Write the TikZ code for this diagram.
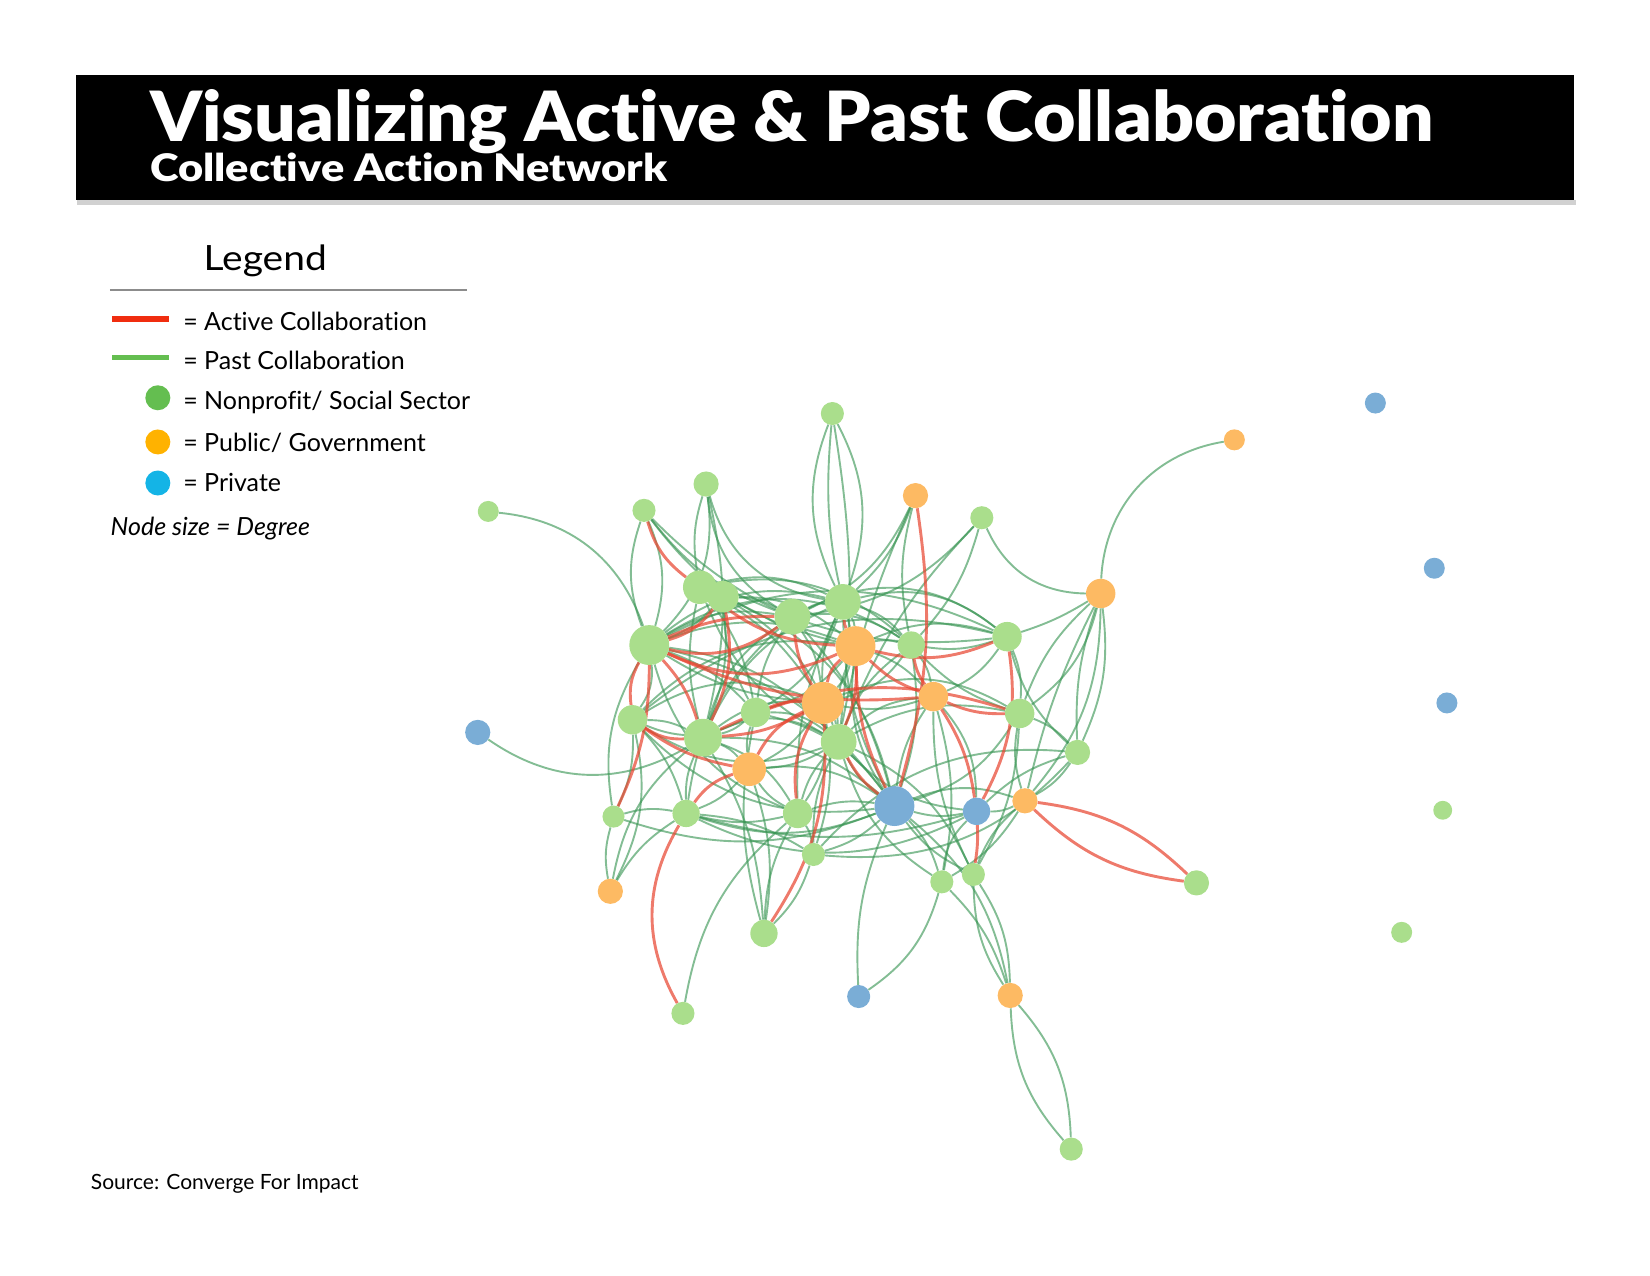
\documentclass[tikz,border=0pt]{standalone}
\usepackage{fontspec}
\setmainfont{Lato}[Ligatures=NoCommon]
\newfontfamily\titlefont{Lato Black}[Ligatures=NoCommon]
\usepackage{graphicx}
\usetikzlibrary{backgrounds}
\definecolor{npGreen}{RGB}{170,222,140}
\definecolor{pgOrange}{RGB}{253,186,99}
\definecolor{pvBlue}{RGB}{122,173,214}
\definecolor{pastGreen}{RGB}{55,148,82}
\definecolor{activeRed}{RGB}{232,70,50}
\definecolor{lgRed}{RGB}{240,45,15}
\definecolor{lgGreen}{RGB}{100,190,80}
\definecolor{lgOrange}{RGB}{255,178,0}
\definecolor{lgBlue}{RGB}{20,180,230}

\begin{document}
\begin{tikzpicture}[
    x=1.0523pt, y=-1.0523pt,
    np/.style={circle, fill=npGreen, inner sep=0pt},
    pg/.style={circle, fill=pgOrange, inner sep=0pt},
    pv/.style={circle, fill=pvBlue, inner sep=0pt},
    pastlink/.style={draw=pastGreen, draw opacity=.62, line width=1.9pt},
    activelink/.style={draw=activeRed, draw opacity=.72, line width=2.9pt},
    lgdot/.style={circle, inner sep=0pt, minimum size=25pt},
    lgtext/.style={anchor=base west, inner sep=0pt, font=\fontsize{25}{30}\selectfont}
  ]
  \useasboundingbox (0,0) rectangle (1568,1212);

  % title bar
  \fill[black!30, opacity=.6] (73,190) rectangle (1498,195);
  \fill[black] (72,71) rectangle (1496,190);
  \node[anchor=base west, inner sep=0pt, text=white] (title) at (142.6,134.6)
    {\raisebox{0pt}[\height][0pt]{\resizebox{1282.8pt}{52pt}{\titlefont Visualizing Active \& Past Collaboration}}};
  \node[anchor=base west, inner sep=0pt, text=white] (subtitle) at (142.6,172.6)
    {\resizebox{517pt}{28.5pt}{\titlefont Collective Action Network}};

  % legend
  \node[anchor=base, inner sep=0pt, font=\fontsize{34.8}{40}\selectfont] (lgtitle) at (252,256.6)
    {\scalebox{1.12}[1]{Legend}};
  \draw[black!45, line width=2pt] (104.5,275.6) -- (443.8,275.6);
  \draw[lgRed, line width=5.8pt] (106.6,303) -- (160.6,303);
  \draw[lgGreen, line width=5.2pt] (106.6,340) -- (160.6,340);
  \node[lgdot, fill=lgGreen] (lgnp) at (150,378) {};
  \node[lgdot, fill=lgOrange] (lgpg) at (150,420) {};
  \node[lgdot, fill=lgBlue] (lgpv) at (150,459) {};
  \node[lgtext] (lgactive) at (174,313.6) {= Active Collaboration};
  \node[lgtext] (lgpast) at (174,350.7) {= Past Collaboration};
  \node[lgtext] (lgnptext) at (174,389.6) {= Nonprofit/ Social Sector};
  \node[lgtext] (lgpgtext) at (174,429) {= Public/ Government};
  \node[lgtext] (lgpvtext) at (174,467) {= Private};
  \node[lgtext, font=\fontsize{25}{30}\selectfont\itshape] (lgsize) at (105,508.5) {Node size = Degree};

  \node[anchor=base west, inner sep=0pt, font=\fontsize{21}{24}\selectfont] (source) at (86.2,1130.2)
    {Source: Converge For Impact};

  % organisations
  \foreach \n/\x/\y/\r in {np1/791/393/11, np2/464/486/10, np3/612/485/11, np4/671/460/12,
      np5/933/492/11, np6/665/558/16, np7/687/567/15, np8/753/586/17, np9/801/572/17,
      np10/617/613/19, np11/866/613/13, np12/957/605/14, np13/601/684/14, np14/718/677/14,
      np15/668/701/18, np16/797/705/17, np17/969/678/14, np18/1024/715/12, np19/583/776/10.5,
      np20/652/773/13, np21/758/773/14, np22/773/812/11, np23/895/838/11, np24/925/831/11,
      np25/1137/839/12, np26/726/887/13, np27/649/963/11, np28/1018/1092/11,
      np29/1371/770/9, np30/1332/886/10}
    \node[np, minimum size=\r*2.1pt] (\n) at (\x,\y) {};
  \foreach \n/\x/\y/\r in {pg1/1173/418/10, pg2/870/471/12, pg3/1046/564/14, pg4/813/614/19,
      pg5/782/668/20, pg6/887/662/14, pg7/712/731/16, pg8/974/761/12, pg9/580/847/12,
      pg10/960/946/12}
    \node[pg, minimum size=\r*2.1pt] (\n) at (\x,\y) {};
  \foreach \n/\x/\y/\r in {pv1/1307/383/10, pv2/1363/540/10, pv3/1375/668/10, pv4/454/696/12,
      pv5/850/766/19, pv6/928/771/13, pv7/816/947/11}
    \node[pv, minimum size=\r*2.1pt] (\n) at (\x,\y) {};

  \begin{scope}[on background layer]
    % past collaboration
    \foreach \a/\b/\bd in {np1/np9/18, np1/np9/-18, np1/pg4/-8, np1/np16/6,
        pg1/pg3/-30, np2/np10/25, pv4/np15/-25,
        np3/np10/15, np3/np10/-15, np3/np8/-12, np3/pg4/-15, np3/np12/-20,
        np4/np10/20, np4/np6/-10, np4/np8/-20, np4/np9/-25, np4/np15/10,
        pg2/np9/10, pg2/np11/-10, pg2/np8/15, pg2/np16/-5,
        np5/pg3/-25, np5/np11/10, np5/np16/-8, np5/np8/15,
        pg3/np12/5, pg3/np17/15, pg3/np17/-10, pg3/np18/12, pg3/np18/-8, pg3/pg8/15, pg3/pg8/-5,
        np12/np17/10, np12/np18/-12, np12/np11/10, np12/pg4/-15, np12/np9/-20, np12/np8/-25,
        np12/np10/-20, np12/np13/-20,
        np17/np18/10, np17/pg8/-10, np17/np24/10, np17/pv5/15, np17/np16/-15, np17/pg5/-20,
        np17/np11/10,
        np18/pg8/10, np18/pv6/-10, np18/np22/-20,
        pg8/pv6/10, pg8/pv5/-15, pg8/np23/10, pg8/np24/-10,
        pv6/pv5/10, pv6/np23/-15, pv6/np16/15, pv6/np20/20,
        pv5/np23/10, pv5/np24/-10, pv5/pg10/15, pv5/pv7/-10, pv5/np22/10, pv5/np21/-10,
        pv5/np20/15, pv5/np19/15, pv5/np13/20, pv5/np16/10, pv5/np15/-15, pv5/np14/-15, pv5/pg7/-15,
        pv5/np9/10, pv5/np8/-10, pv5/np7/-20, pv5/np10/-15, pv5/pg4/15, pv5/pg6/10, pv5/np11/-10,
        pg10/np24/12, pg10/np24/-12, pg10/np28/15, pg10/np28/-15, pg10/np23/-10,
        pv7/np23/-15,
        np10/np8/15, np10/np9/20, np10/pg4/15, np10/np11/25, np10/np14/10, np10/pg5/-10,
        np10/np16/15, np10/np21/-20, np10/np13/15, np10/np7/-10,
        np6/np9/15, np6/np11/20, np6/np15/-10, np6/np14/10, np6/pg5/10, np6/np16/-15,
        np7/np8/10, np7/pg4/15, np7/np15/10, np7/np16/15, np7/np14/-10,
        np8/np9/10, np8/np11/15, np8/np14/-10, np8/pg5/10, np8/np15/-15, np8/np20/-15,
        np9/pg4/10, np9/pg5/-10, np9/np15/-15, np9/np21/-10, np9/np14/15, np9/np11/12,
        pg4/np11/10, pg4/pg5/10, pg4/np16/-10, pg4/np13/-20, pg4/pg6/10, pg4/np14/12,
        np11/pg5/15, np11/pg6/10, np11/np16/-12,
        pg5/np16/10, pg5/np15/-15, pg5/pg7/10, pg5/np21/15, pg5/np13/-20, pg5/pg6/-10,
        pg6/np16/-15, pg6/pv6/15, pg6/np23/10, pg6/np24/-10, pg6/np12/-12,
        np13/np15/10, np13/np14/-20, np13/np20/10, np13/np16/-20, np13/np19/10,
        np14/np15/10, np14/pg7/-10, np14/np16/15,
        np15/pg7/10, np15/np20/-10, np15/np21/15, np15/np16/20,
        np16/np21/-10, np16/pg7/10, np16/np22/-10,
        pg7/np20/10, pg7/np21/-10, pg7/np26/10,
        np20/np21/-10, np20/np22/10, np20/pv6/-12, np21/np22/10,
        np22/np26/10, np22/np18/-20, np22/pg5/-10,
        np19/np10/15, np19/pg9/-10, np19/np20/10,
        pg9/np20/10, pg9/np13/-15, pg9/np15/15,
        np26/np14/10, np26/np15/-10, np26/np21/10,
        np27/np21/15, np23/np16/15, np24/np16/-15}
      {\pgfmathsetmacro\bb{1.3*\bd}
       \draw[pastlink] (\a) to[bend left=\bb] (\b);}
    % active collaboration
    \foreach \a/\b/\bd in {np3/np6/-15,
        np10/np7/-15, np10/np8/-20, np10/np8/10, np10/pg4/-20, np10/np13/-15, np10/np15/10,
        np19/np10/-10, np6/pg4/-15, np7/np15/15, np8/pg5/-10, np10/pg6/-12,
        pg4/pg5/-15, pg4/np16/10, pg4/np12/-15, pg4/pv5/-10, pg4/pg6/-10,
        pg2/pv5/10, pg5/pg7/-15, pg5/np15/10, pg5/np26/15,
        pg7/np20/-15, pg7/np13/10, np13/np15/-15, np15/np17/18,
        pg6/np17/-10, pg6/pv6/10, np12/pv6/15, pv6/np24/5,
        pg8/np25/15, pg8/np25/-15, np27/np20/25,
        np14/pg5/10, np11/pg6/-10, np16/pv5/-10, np9/pg4/-10, pg5/np21/-15}
      {\pgfmathsetmacro\bb{1.2*\bd}
       \draw[activelink] (\a) to[bend left=\bb] (\b);}
  \end{scope}
\end{tikzpicture}
\end{document}
